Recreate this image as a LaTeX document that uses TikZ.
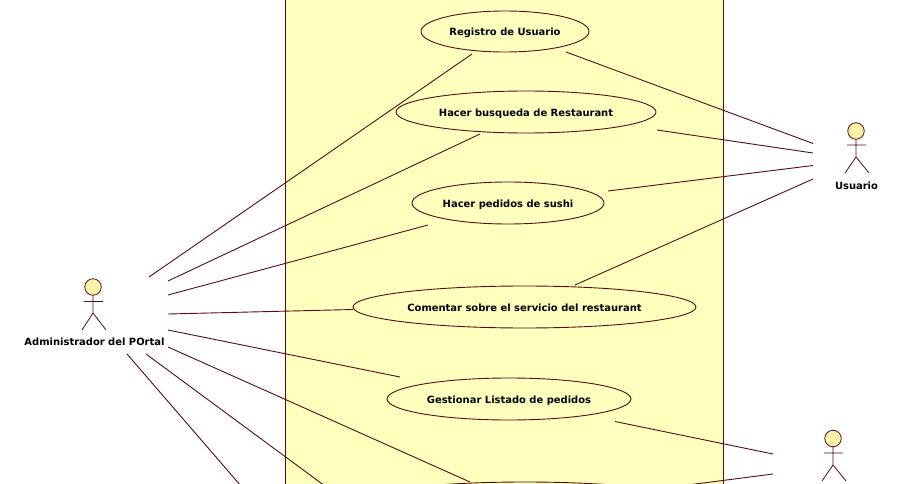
\documentclass[tikz,border=0pt]{standalone}
\usepackage{fontspec}
\setmainfont{DejaVu Sans}
\usetikzlibrary{shapes.geometric}
\definecolor{umlline}{HTML}{5A0A14}
\definecolor{umlfill}{HTML}{FFFFBE}
\definecolor{umlhead}{HTML}{FFF3A8}
\newcommand{\uclabel}[1]{\raisebox{-4.2pt}[0pt][0pt]{#1}}
\tikzset{
  usecase/.style={ellipse,draw=umlline,fill=umlfill,line width=0.9pt,inner sep=0pt,font=\fontsize{9.95}{12}\selectfont\bfseries,text=black},
  assoc/.style={draw=umlline,line width=0.9pt},
  actorlabel/.style={inner sep=0pt,font=\fontsize{9.95}{12}\selectfont\bfseries,text=black},
  actorline/.style={draw=umlline,line width=0.8pt},
  actorhead/.style={circle,draw=umlline,fill=umlhead,line width=0.8pt,minimum size=16.5pt,inner sep=0pt},
  boundary/.style={draw=umlline,fill=umlfill,line width=1pt}
}
\begin{document}
\begin{tikzpicture}[x=1pt,y=-1pt]
\useasboundingbox (0,0) rectangle (921,484);
\clip (0,0) rectangle (921,484);
\fill[white] (0,0) rectangle (921,484);
\draw[boundary] (285,-10) rectangle (723,500);
% use cases
\node[usecase,minimum width=168pt,minimum height=41pt] (uc1) at (505,31.5) {\uclabel{Registro de Usuario}};
\node[usecase,minimum width=260pt,minimum height=42pt] (uc2) at (526,112) {\uclabel{Hacer busqueda de Restaurant}};
\node[usecase,minimum width=192pt,minimum height=42pt] (uc3) at (508,203) {\uclabel{Hacer pedidos de sushi}};
\node[usecase,minimum width=343pt,minimum height=42pt] (uc4) at (524.5,307) {\uclabel{Comentar sobre el servicio del restaurant}};
\node[usecase,minimum width=244pt,minimum height=42pt] (uc5) at (509,399) {\uclabel{Gestionar Listado de pedidos}};
\node[usecase,minimum width=340pt,minimum height=42pt] (uc6) at (525,503) {};
% actors
\node[actorhead] (adminhead) at (93,287) {};
\coordinate (adminhip) at (93,313);
\coordinate (adminarml) at (84,301.5);
\coordinate (adminarmr) at (103,301.5);
\coordinate (adminlegl) at (82,330);
\coordinate (adminlegr) at (106,330);
\draw[actorline] (adminhead) -- (adminhip) (adminarml) -- (adminarmr) (adminlegl) -- (adminhip) -- (adminlegr);
\node[actorlabel] (admin) at (94.5,342) {Administrador del POrtal};
\node[actorhead] (userhead) at (856,131) {};
\coordinate (userhip) at (856,157);
\coordinate (userarml) at (847,145);
\coordinate (userarmr) at (866,145);
\coordinate (userlegl) at (845,173);
\coordinate (userlegr) at (869,173);
\draw[actorline] (userhead) -- (userhip) (userarml) -- (userarmr) (userlegl) -- (userhip) -- (userlegr);
\node[actorlabel] (user) at (856.5,186) {Usuario};
\node[actorhead] (thirdhead) at (833,438.5) {};
\coordinate (thirdhip) at (833,465);
\coordinate (thirdarml) at (824,453);
\coordinate (thirdarmr) at (843,453);
\coordinate (thirdlegl) at (822,481);
\coordinate (thirdlegr) at (846,481);
\draw[actorline] (thirdhead) -- (thirdhip) (thirdarml) -- (thirdarmr) (thirdlegl) -- (thirdhip) -- (thirdlegr);
% connector ends: administrator side
\coordinate (a1) at (149,277);   \coordinate (a1e) at (472,54);
\coordinate (a2) at (168,281);   \coordinate (a2e) at (480,134);
\coordinate (a3) at (168,295);   \coordinate (a3e) at (428,225);
\coordinate (a4) at (168,314);   \coordinate (a4e) at (353,309.5);
\coordinate (a5) at (168,330);   \coordinate (a5e) at (400,377);
\coordinate (a6) at (168,347);   \coordinate (a6e) at (470,482);
\coordinate (a7) at (146,354);   \coordinate (a7e) at (325,486);
\coordinate (a8) at (127,354);   \coordinate (a8e) at (241,486);
% user side
\coordinate (u1) at (813,143.5); \coordinate (u1e) at (566,52);
\coordinate (u2) at (813,153);   \coordinate (u2e) at (657,130);
\coordinate (u3) at (813,165.5); \coordinate (u3e) at (608,191);
\coordinate (u4) at (813,179);   \coordinate (u4e) at (575,285);
% third actor side
\coordinate (t1) at (773,454);   \coordinate (t1e) at (615,421.5);
\coordinate (t2) at (773,474);   \coordinate (t2e) at (680,486);
\foreach \s/\e in {a1/a1e,a2/a2e,a3/a3e,a4/a4e,a5/a5e,a6/a6e,a7/a7e,a8/a8e,u1/u1e,u2/u2e,u3/u3e,u4/u4e,t1/t1e,t2/t2e}
  \draw[assoc] (\s) -- (\e);
\end{tikzpicture}
\end{document}
